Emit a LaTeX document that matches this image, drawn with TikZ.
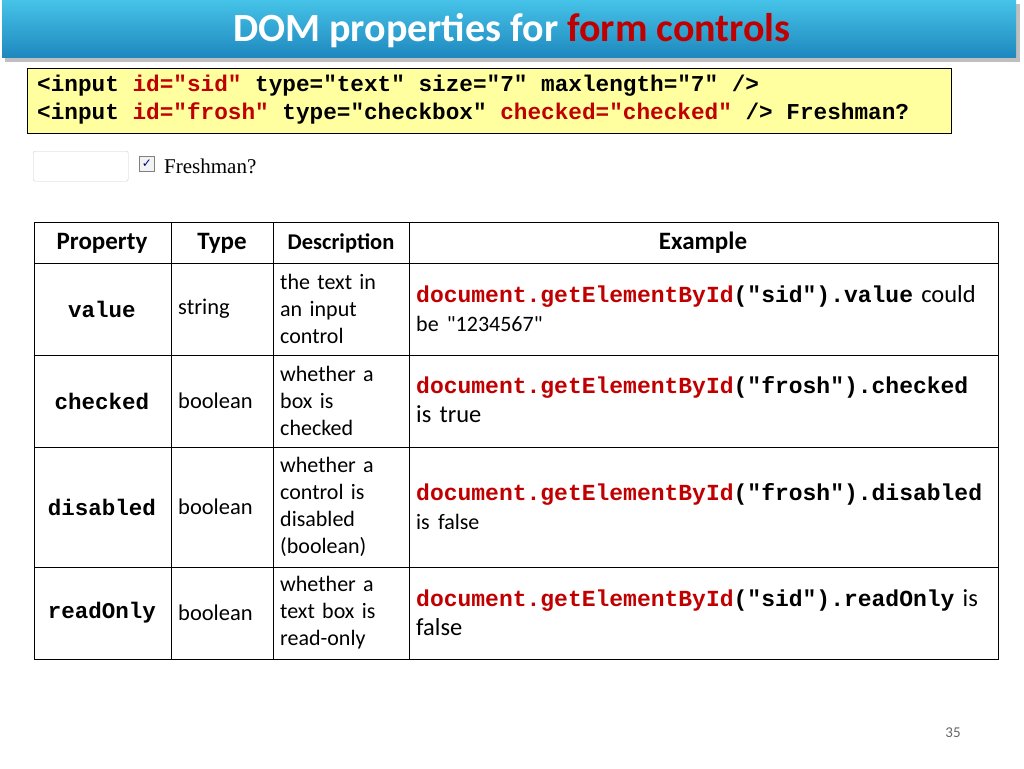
\documentclass[tikz,border=0pt]{standalone}
\usepackage{fontspec}
\setmainfont{Carlito}
\newfontfamily\calq{Carlito}
\newfontfamily\cmono{Liberation Mono}
\newfontfamily\tnr{Liberation Serif}
\newfontfamily\dvs{DejaVu Sans}
\newcommand\excode{\cmono\bfseries\fontsize{23}{28}\selectfont}
\definecolor{bar}{RGB}{30,135,190}
\definecolor{barhi}{RGB}{70,195,232}
\definecolor{codered}{RGB}{192,0,0}
\definecolor{titlered}{RGB}{192,0,0}
\definecolor{yel}{RGB}{255,255,160}
\begin{document}
\begin{tikzpicture}[x=1pt,y=-1pt,
  cell/.style={anchor=center,align=center},
  desc/.style={anchor=west,align=left,font=\fontsize{22}{27}\selectfont,text width=130pt,inner xsep=2pt},
  ex/.style={anchor=west,align=left,font=\fontsize{24.5}{29}\selectfont,text width=585pt,inner xsep=2pt},
  code/.style={font=\cmono\bfseries\fontsize{22.5}{26}\selectfont},
  typ/.style={anchor=west,font=\fontsize{22.5}{24}\selectfont,inner xsep=2pt}]
\useasboundingbox (0,0) rectangle (1024,768);
\fill[black!25] (5,4) rectangle (1020,62);
\shade[top color=barhi,bottom color=bar] (2,0) rectangle (1016,58);
\node[text=white,font=\fontsize{40}{44}\selectfont\bfseries] (title) at (512,31) {DOM properties for \textcolor{titlered}{form controls}};
\node[draw=black,fill=yel,line width=0.8pt,minimum width=924pt,minimum height=65pt,anchor=north west,inner sep=0] (codebox) at (27,68) {};
\node[anchor=west,align=left,font=\cmono\bfseries\fontsize{22.7}{28}\selectfont,inner sep=0] (codetxt) at (37,100) {<input \textcolor{codered}{id="sid"} type="text" size="7" maxlength="7" />\\<input \textcolor{codered}{id="frosh"} type="checkbox" \textcolor{codered}{checked="checked"} /> Freshman?};
\node[draw=black!20,rounded corners=2pt,minimum width=95pt,minimum height=30pt,anchor=north west] (tbox) at (33,151) {};
\node[draw=black!50,fill=black!5,minimum size=15pt,inner sep=0,font=\dvs\bfseries\fontsize{12}{12}\selectfont,text=blue!55!black] (cb) at (147,164) {✓};
\node[anchor=west,font=\tnr\fontsize{21}{24}\selectfont,inner sep=0] (fr) at (164,166) {Freshman?};
% table
\draw[line width=0.8pt] (34,222) rectangle (998,659);
\foreach \y in {263,355,447,567} \draw[line width=0.8pt] (34,\y) -- (998,\y);
\foreach \x in {171,273,409} \draw[line width=0.8pt] (\x,222) -- (\x,659);
\node[cell,font=\fontsize{25}{26}\selectfont\bfseries] (h1) at (102,243) {Property};
\node[cell,font=\fontsize{25}{26}\selectfont\bfseries] (h2) at (222,243) {Type};
\node[cell,font=\fontsize{22.5}{24}\selectfont\bfseries] (h3) at (341,243) {Description};
\node[cell,font=\fontsize{25}{26}\selectfont\bfseries] (h4) at (703,243) {Example};
\node[cell,code] (p1) at (102,309) {value};
\node[cell,code] (p2) at (102,401) {checked};
\node[cell,code] (p3) at (102,507) {disabled};
\node[cell,code] (p4) at (102,613) {readOnly};
\node[typ] (t1) at (176,309) {string};
\node[typ] (t2) at (176,401) {boolean};
\node[typ] (t3) at (176,507) {boolean};
\node[typ] (t4) at (176,613) {boolean};
\node[desc] (d1) at (278,309) {the text in\\an input\\control};
\node[desc] (d2) at (278,401) {whether a\\box is\\checked};
\node[desc] (d3) at (278,507) {whether a\\control is\\disabled\\(boolean)};
\node[desc] (d4) at (278,613) {whether a\\text box is\\read-only};
\node[ex] (e1) at (414,309) {{\excode\textcolor{codered}{document.getElementById}("sid").value} could\\{\calq\fontsize{22}{26}\selectfont be "1234567"}};
\node[ex] (e2) at (414,400) {{\excode\textcolor{codered}{document.getElementById}("frosh").checked}\\is true};
\node[ex] (e3) at (414,507) {{\excode\textcolor{codered}{document.getElementById}("frosh").disabled}\\{\fontsize{22}{26}\selectfont is false}};
\node[ex] (e4) at (414,613) {{\excode\textcolor{codered}{document.getElementById}("sid").readOnly} is\\false};
\node[text=black!60,font=\fontsize{15}{16}\selectfont] (pg) at (953,733) {35};
\end{tikzpicture}
\end{document}
